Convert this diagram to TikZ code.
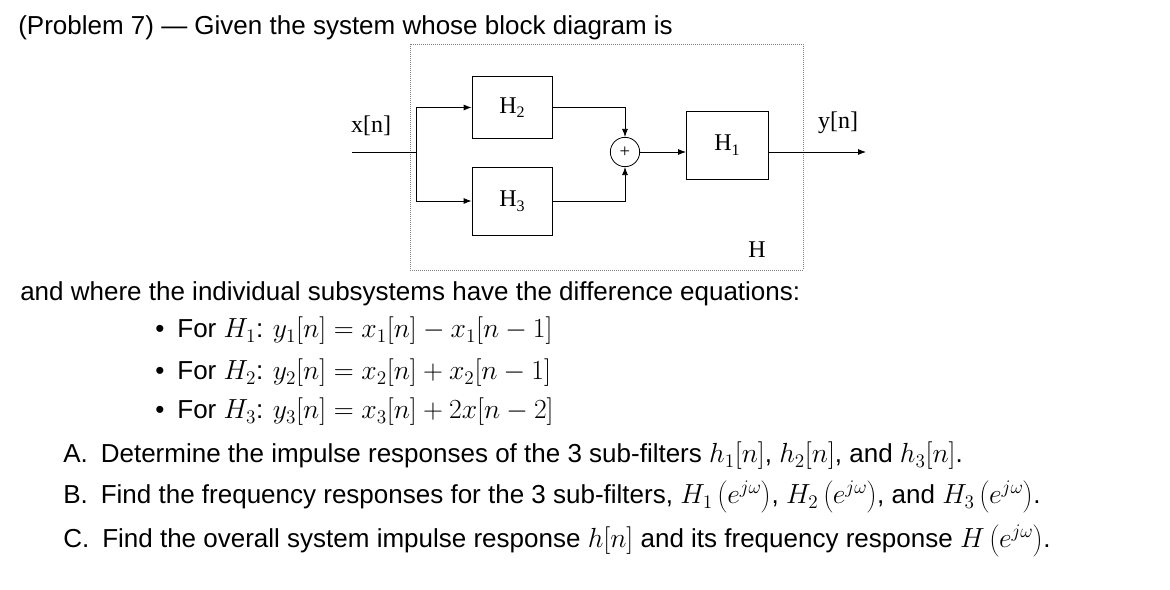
\documentclass[tikz,border=0pt]{standalone}
\usepackage{fontspec}
\setmainfont{Liberation Sans}
\newfontfamily\tms{Liberation Serif}
\usetikzlibrary{arrows.meta}
\newcommand\mbig{\fontsize{22}{26}\selectfont}
\newcommand\mnorm{\fontsize{19.5}{24}\selectfont}
\newcommand\sbs[1]{\raisebox{-3.5pt}{\fontsize{12}{12}\selectfont #1}}
\begin{document}
\begin{tikzpicture}[x=0.75pt,y=-0.75pt,
  blk/.style={draw,line width=0.6pt,inner sep=0pt},
  lbl/.style={font=\tms\fontsize{18}{20}\selectfont,inner sep=0pt},
  wire/.style={line width=0.6pt},
  arr/.style={wire,-{Latex[length=6pt,width=4.5pt]}},
  txt/.style={anchor=west,inner sep=0pt,font=\mnorm}]
\useasboundingbox (0,0) rectangle (1170,589);
% frame
\draw[gray,densely dotted,line width=0.5pt] (410,44) rectangle (803,270);
\node[blk,minimum width=60pt,minimum height=47pt] (h2) at (512,107.5) {};
\node[lbl] at (h2) {H\sbs{2}};
\node[blk,minimum width=60pt,minimum height=51pt] (h3) at (512,201) {};
\node[lbl] at (h3) {H\sbs{3}};
\node[blk,minimum width=61.5pt,minimum height=51pt] (h1) at (727,145) {};
\node[lbl] at (h1) {H\sbs{1}};
\node[draw,circle,line width=0.6pt,minimum size=22pt,inner sep=0pt,font=\tms\fontsize{14}{14}\selectfont] (s) at (625,152) {+};
\coordinate (in) at (352,152);
\coordinate (br) at (416,152);
\coordinate (h1in) at (686,152);
\coordinate (h1out) at (768,152);
\coordinate (out) at (866,152);
\node[lbl,anchor=south] (xl) at (371,136) {x[n]};
\node[lbl,anchor=south] (yl) at (838,134) {y[n]};
\node[lbl] (hl) at (757,250) {H};
\draw[wire] (in) -- (br);
\draw[arr] (br) |- (h2.west);
\draw[arr] (br) |- (h3.west);
\draw[arr] (h2.east) -| (s.north);
\draw[arr] (h3.east) -| (s.south);
\draw[arr] (s.east) -- (h1in);
\draw[arr] (h1out) -- (out);
% text
\node[txt] (t0) at (18,28) {(Problem 7) — Given the system whose block diagram is};
\node[txt] (t1) at (20,294) {and where the individual subsystems have the difference equations:};
\node[txt] (b1) at (155,331) {•\enspace For \mbig$H_1$\mnorm: \mbig$y_1[n]=x_1[n]-x_1[n-1]$};
\node[txt] (b2) at (155,373) {•\enspace For \mbig$H_2$\mnorm: \mbig$y_2[n]=x_2[n]+x_2[n-1]$};
\node[txt] (b3) at (155,412) {•\enspace For \mbig$H_3$\mnorm: \mbig$y_3[n]=x_3[n]+2x[n-2]$};
\node[txt] (a) at (63,456) {A.\enspace Determine the impulse responses of the 3 sub-filters \mbig$h_1[n]$\mnorm, \mbig$h_2[n]$\mnorm, and \mbig$h_3[n]$\mnorm.};
\node[txt] (b) at (63,497) {B.\enspace Find the frequency responses for the 3 sub-filters, \mbig$H_1\left(e^{j\omega}\right)$\mnorm, \mbig$H_2\left(e^{j\omega}\right)$\mnorm, and \mbig$H_3\left(e^{j\omega}\right)$\mnorm.};
\node[txt] (c) at (63,541) {C.\enspace Find the overall system impulse response \mbig$h[n]$\mnorm{} and its frequency response \mbig$H\left(e^{j\omega}\right)$\mnorm.};
\end{tikzpicture}
\end{document}
